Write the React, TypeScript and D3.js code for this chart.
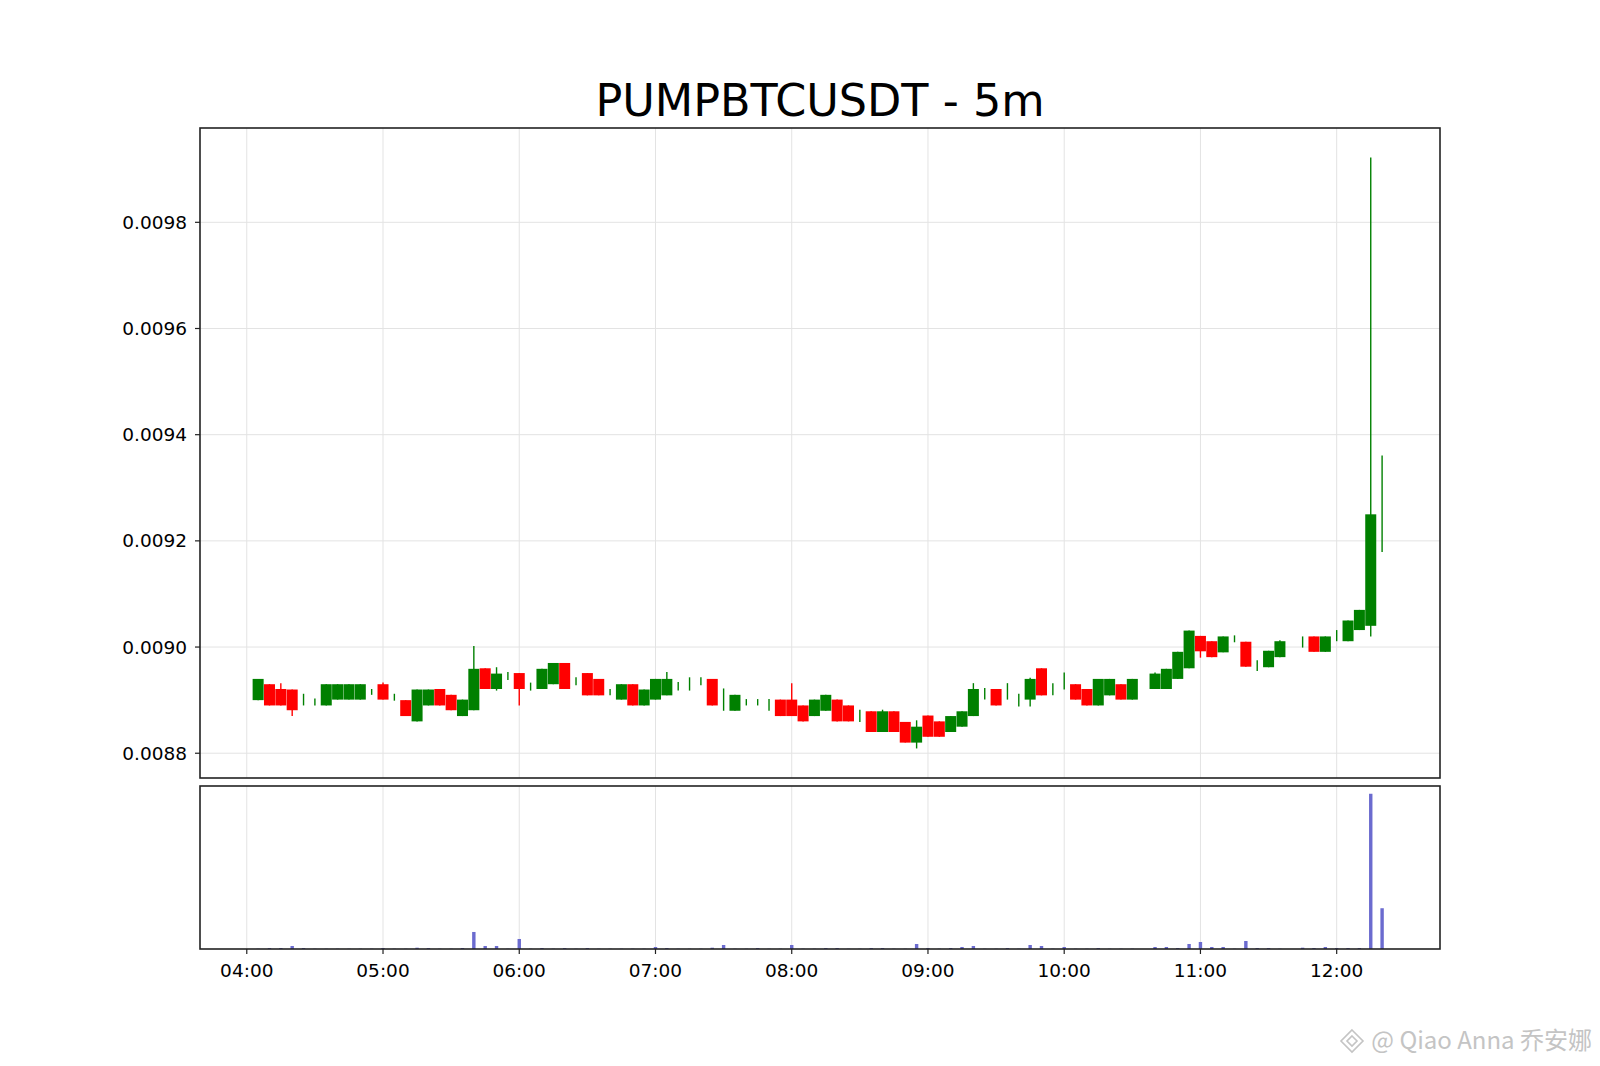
import React from 'react';
import * as d3 from 'd3';

// 5-minute candles, PUMPBTCUSDT
const times = [
  '04:05', '04:10', '04:15', '04:20', '04:25', '04:30', '04:35', '04:40', '04:45', '04:50',
  '04:55', '05:00', '05:05', '05:10', '05:15', '05:20', '05:25', '05:30', '05:35', '05:40',
  '05:45', '05:50', '05:55', '06:00', '06:05', '06:10', '06:15', '06:20', '06:25', '06:30',
  '06:35', '06:40', '06:45', '06:50', '06:55', '07:00', '07:05', '07:10', '07:15', '07:20',
  '07:25', '07:30', '07:35', '07:40', '07:45', '07:50', '07:55', '08:00', '08:05', '08:10',
  '08:15', '08:20', '08:25', '08:30', '08:35', '08:40', '08:45', '08:50', '08:55', '09:00',
  '09:05', '09:10', '09:15', '09:20', '09:25', '09:30', '09:35', '09:40', '09:45', '09:50',
  '09:55', '10:00', '10:05', '10:10', '10:15', '10:20', '10:25', '10:30', '10:40', '10:45',
  '10:50', '10:55', '11:00', '11:05', '11:10', '11:15', '11:20', '11:25', '11:30', '11:35',
  '11:45', '11:50', '11:55', '12:00', '12:05', '12:10', '12:15', '12:20',
];

const opens = [
  0.008900, 0.008930, 0.008921, 0.008920, 0.008900, 0.008895, 0.008890, 0.008901, 0.008901, 0.008901,
  0.008915, 0.008930, 0.008905, 0.008900, 0.008860, 0.008890, 0.008921, 0.008910, 0.008870, 0.008881,
  0.008960, 0.008921, 0.008945, 0.008951, 0.008925, 0.008921, 0.008930, 0.008970, 0.008935, 0.008951,
  0.008940, 0.008915, 0.008901, 0.008930, 0.008890, 0.008901, 0.008909, 0.008925, 0.008930, 0.008935,
  0.008940, 0.008900, 0.008880, 0.008896, 0.008896, 0.008892, 0.008901, 0.008901, 0.008890, 0.008870,
  0.008880, 0.008901, 0.008890, 0.008870, 0.008879, 0.008840, 0.008879, 0.008859, 0.008820, 0.008871,
  0.008860, 0.008840, 0.008850, 0.008870, 0.008912, 0.008921, 0.008916, 0.008900, 0.008901, 0.008960,
  0.008920, 0.008936, 0.008930, 0.008921, 0.008890, 0.008909, 0.008930, 0.008901, 0.008921, 0.008921,
  0.008940, 0.008960, 0.009021, 0.009011, 0.008990, 0.009016, 0.009010, 0.008966, 0.008962, 0.008981,
  0.009010, 0.009020, 0.008991, 0.009020, 0.009011, 0.009032, 0.009040, 0.009250,
];

const highs = [
  0.008940, 0.008930, 0.008932, 0.008920, 0.008912, 0.008903, 0.008930, 0.008930, 0.008930, 0.008930,
  0.008921, 0.008933, 0.008912, 0.008900, 0.008920, 0.008920, 0.008921, 0.008910, 0.008901, 0.009002,
  0.008960, 0.008962, 0.008953, 0.008951, 0.008933, 0.008959, 0.008970, 0.008970, 0.008943, 0.008951,
  0.008940, 0.008921, 0.008930, 0.008930, 0.008920, 0.008940, 0.008953, 0.008934, 0.008943, 0.008943,
  0.008940, 0.008922, 0.008910, 0.008902, 0.008902, 0.008902, 0.008901, 0.008932, 0.008890, 0.008901,
  0.008910, 0.008901, 0.008890, 0.008882, 0.008879, 0.008882, 0.008879, 0.008859, 0.008862, 0.008871,
  0.008860, 0.008870, 0.008879, 0.008932, 0.008923, 0.008921, 0.008932, 0.008912, 0.008942, 0.008960,
  0.008932, 0.008952, 0.008930, 0.008921, 0.008940, 0.008940, 0.008930, 0.008940, 0.008952, 0.008959,
  0.008991, 0.009031, 0.009021, 0.009011, 0.009020, 0.009022, 0.009010, 0.008975, 0.008993, 0.009013,
  0.009020, 0.009020, 0.009020, 0.009032, 0.009050, 0.009070, 0.009922, 0.009361,
];

const lows = [
  0.008900, 0.008890, 0.008890, 0.008870, 0.008890, 0.008890, 0.008890, 0.008901, 0.008901, 0.008901,
  0.008910, 0.008901, 0.008899, 0.008870, 0.008860, 0.008890, 0.008890, 0.008881, 0.008870, 0.008881,
  0.008921, 0.008918, 0.008938, 0.008890, 0.008918, 0.008921, 0.008930, 0.008921, 0.008928, 0.008909,
  0.008909, 0.008909, 0.008901, 0.008890, 0.008890, 0.008901, 0.008909, 0.008918, 0.008918, 0.008928,
  0.008890, 0.008880, 0.008880, 0.008890, 0.008890, 0.008880, 0.008870, 0.008870, 0.008860, 0.008870,
  0.008880, 0.008860, 0.008860, 0.008859, 0.008840, 0.008840, 0.008840, 0.008820, 0.008809, 0.008831,
  0.008831, 0.008840, 0.008850, 0.008870, 0.008901, 0.008890, 0.008901, 0.008888, 0.008888, 0.008909,
  0.008909, 0.008920, 0.008901, 0.008890, 0.008890, 0.008909, 0.008901, 0.008901, 0.008921, 0.008921,
  0.008940, 0.008960, 0.008980, 0.008981, 0.008990, 0.009009, 0.008963, 0.008955, 0.008962, 0.008981,
  0.008999, 0.008991, 0.008991, 0.009011, 0.009011, 0.009032, 0.009020, 0.009179,
];

const closes = [
  0.008940, 0.008890, 0.008890, 0.008881, 0.008900, 0.008895, 0.008930, 0.008930, 0.008930, 0.008930,
  0.008915, 0.008901, 0.008905, 0.008870, 0.008920, 0.008920, 0.008890, 0.008881, 0.008901, 0.008959,
  0.008921, 0.008950, 0.008945, 0.008921, 0.008925, 0.008959, 0.008970, 0.008921, 0.008935, 0.008909,
  0.008909, 0.008915, 0.008930, 0.008890, 0.008920, 0.008940, 0.008940, 0.008925, 0.008930, 0.008935,
  0.008890, 0.008900, 0.008910, 0.008896, 0.008896, 0.008892, 0.008870, 0.008870, 0.008860, 0.008901,
  0.008910, 0.008860, 0.008860, 0.008870, 0.008840, 0.008879, 0.008840, 0.008820, 0.008850, 0.008831,
  0.008831, 0.008870, 0.008879, 0.008921, 0.008912, 0.008890, 0.008916, 0.008900, 0.008940, 0.008909,
  0.008920, 0.008936, 0.008901, 0.008890, 0.008940, 0.008940, 0.008901, 0.008940, 0.008950, 0.008959,
  0.008991, 0.009031, 0.008992, 0.008981, 0.009020, 0.009016, 0.008963, 0.008966, 0.008993, 0.009011,
  0.009010, 0.008991, 0.009020, 0.009020, 0.009050, 0.009070, 0.009250, 0.009250,
];

const volumes = [
  3, 10, 10, 30, 10, 3, 3, 3, 3, 3,
  3, 10, 3, 3, 13, 10, 3, 3, 10, 170,
  30, 30, 3, 100, 3, 10, 3, 10, 3, 10,
  3, 3, 3, 3, 3, 20, 10, 3, 3, 3,
  13, 40, 3, 3, 10, 3, 3, 40, 3, 3,
  10, 10, 3, 3, 10, 10, 3, 3, 50, 10,
  3, 10, 20, 30, 3, 3, 10, 3, 40, 30,
  3, 20, 3, 3, 10, 3, 3, 3, 20, 20,
  10, 50, 70, 20, 20, 3, 80, 10, 10, 3,
  13, 10, 20, 10, 10, 10, 1550, 407,
];

const xTickLabels = ['04:00', '05:00', '06:00', '07:00', '08:00', '09:00', '10:00', '11:00', '12:00'];
const yTickValues = [0.0088, 0.009, 0.0092, 0.0094, 0.0096, 0.0098];

const toMin = (t: string) => {
  const [h, m] = t.split(':').map(Number);
  return h * 60 + m;
};

const W = 1600;
const H = 1066;
const LEFT = 200;
const RIGHT = 1440;
const PRICE_TOP = 128;
const PRICE_BOTTOM = 778;
const VOL_TOP = 786;
const VOL_BOTTOM = 949;
const FONT = 'DejaVu Sans, sans-serif';
const UP = '#008000';
const DOWN = '#ff0000';
const GRID = '#e3e3e3';

const App: React.FC = () => {
  const candles = times.map((t, i) => ({
    t: toMin(t),
    o: opens[i],
    h: highs[i],
    l: lows[i],
    c: closes[i],
    v: volumes[i],
  }));

  const x = d3.scaleLinear().domain([219.4, 765.5]).range([LEFT, RIGHT]);

  const lo = d3.min(lows)!;
  const hi = d3.max(highs)!;
  const pad = (hi - lo) * 0.05;
  const y = d3.scaleLinear().domain([lo - pad, hi + pad]).range([PRICE_BOTTOM, PRICE_TOP]);

  const vMax = d3.max(volumes)!;
  const yv = d3.scaleLinear().domain([0, vMax * 1.05]).range([VOL_BOTTOM, VOL_TOP]);

  const bodyW = x(4.85) - x(0);
  const volW = x(1.5) - x(0);

  return (
    <svg width={W} height={H} style={{ position: 'absolute', left: 0, top: 0, background: '#fff' }}>
      <rect x={0} y={0} width={W} height={H} fill="#fff" />

      <text x={(LEFT + RIGHT) / 2} y={116} textAnchor="middle" fontFamily={FONT} fontSize={44.5} fill="#000">
        PUMPBTCUSDT - 5m
      </text>

      {/* grid */}
      {xTickLabels.map((lab) => (
        <g key={lab}>
          <line x1={x(toMin(lab))} x2={x(toMin(lab))} y1={PRICE_TOP} y2={PRICE_BOTTOM} stroke={GRID} strokeWidth={1} />
          <line x1={x(toMin(lab))} x2={x(toMin(lab))} y1={VOL_TOP} y2={VOL_BOTTOM} stroke={GRID} strokeWidth={1} />
        </g>
      ))}
      {yTickValues.map((v) => (
        <line key={v} x1={LEFT} x2={RIGHT} y1={y(v)} y2={y(v)} stroke={GRID} strokeWidth={1} />
      ))}

      {/* candles */}
      {candles.map((d) => {
        const col = d.c >= d.o ? UP : DOWN;
        const top = y(Math.max(d.o, d.c));
        const bot = y(Math.min(d.o, d.c));
        return (
          <g key={d.t}>
            <line x1={x(d.t)} x2={x(d.t)} y1={y(d.h)} y2={y(d.l)} stroke={col} strokeWidth={1.4} />
            {bot - top > 0.5 && (
              <rect x={x(d.t) - bodyW / 2} y={top} width={bodyW} height={bot - top} fill={col} />
            )}
          </g>
        );
      })}

      {/* volume */}
      {candles.map((d) => (
        <rect
          key={'v' + d.t}
          x={x(d.t) - volW / 2}
          y={yv(d.v)}
          width={volW}
          height={VOL_BOTTOM - yv(d.v)}
          fill="#6b6bcf"
        />
      ))}

      {/* frames */}
      <rect x={LEFT} y={PRICE_TOP} width={RIGHT - LEFT} height={PRICE_BOTTOM - PRICE_TOP} fill="none" stroke="#222" strokeWidth={1.6} />
      <rect x={LEFT} y={VOL_TOP} width={RIGHT - LEFT} height={VOL_BOTTOM - VOL_TOP} fill="none" stroke="#222" strokeWidth={1.6} />

      {/* y axis */}
      {yTickValues.map((v) => (
        <g key={'yt' + v}>
          <line x1={LEFT - 5} x2={LEFT} y1={y(v)} y2={y(v)} stroke="#222" strokeWidth={1.2} />
          <text x={LEFT - 13} y={y(v)} dy="0.35em" textAnchor="end" fontFamily={FONT} fontSize={18.5} fill="#000">
            {v.toFixed(4)}
          </text>
        </g>
      ))}

      {/* x axis */}
      {xTickLabels.map((lab) => (
        <g key={'xt' + lab}>
          <line x1={x(toMin(lab))} x2={x(toMin(lab))} y1={VOL_BOTTOM} y2={VOL_BOTTOM + 5} stroke="#222" strokeWidth={1.2} />
          <text x={x(toMin(lab))} y={977} textAnchor="middle" fontFamily={FONT} fontSize={18.5} fill="#000">
            {lab}
          </text>
        </g>
      ))}

      {/* watermark */}
      <g transform="translate(1352,1041)" fill="none" stroke="#c4c4c4" strokeWidth={1.6}>
        <path d="M0,-11 L11,0 L0,11 L-11,0 Z" />
        <path d="M0,-5 L5,0 L0,5 L-5,0 Z" />
      </g>
      <text x={1592} y={1049} textAnchor="end" fontFamily="'Noto Sans CJK SC', sans-serif" fontSize={24} fill="#c4c4c4">
        @ Qiao Anna 乔安娜
      </text>
    </svg>
  );
};

export default App;
